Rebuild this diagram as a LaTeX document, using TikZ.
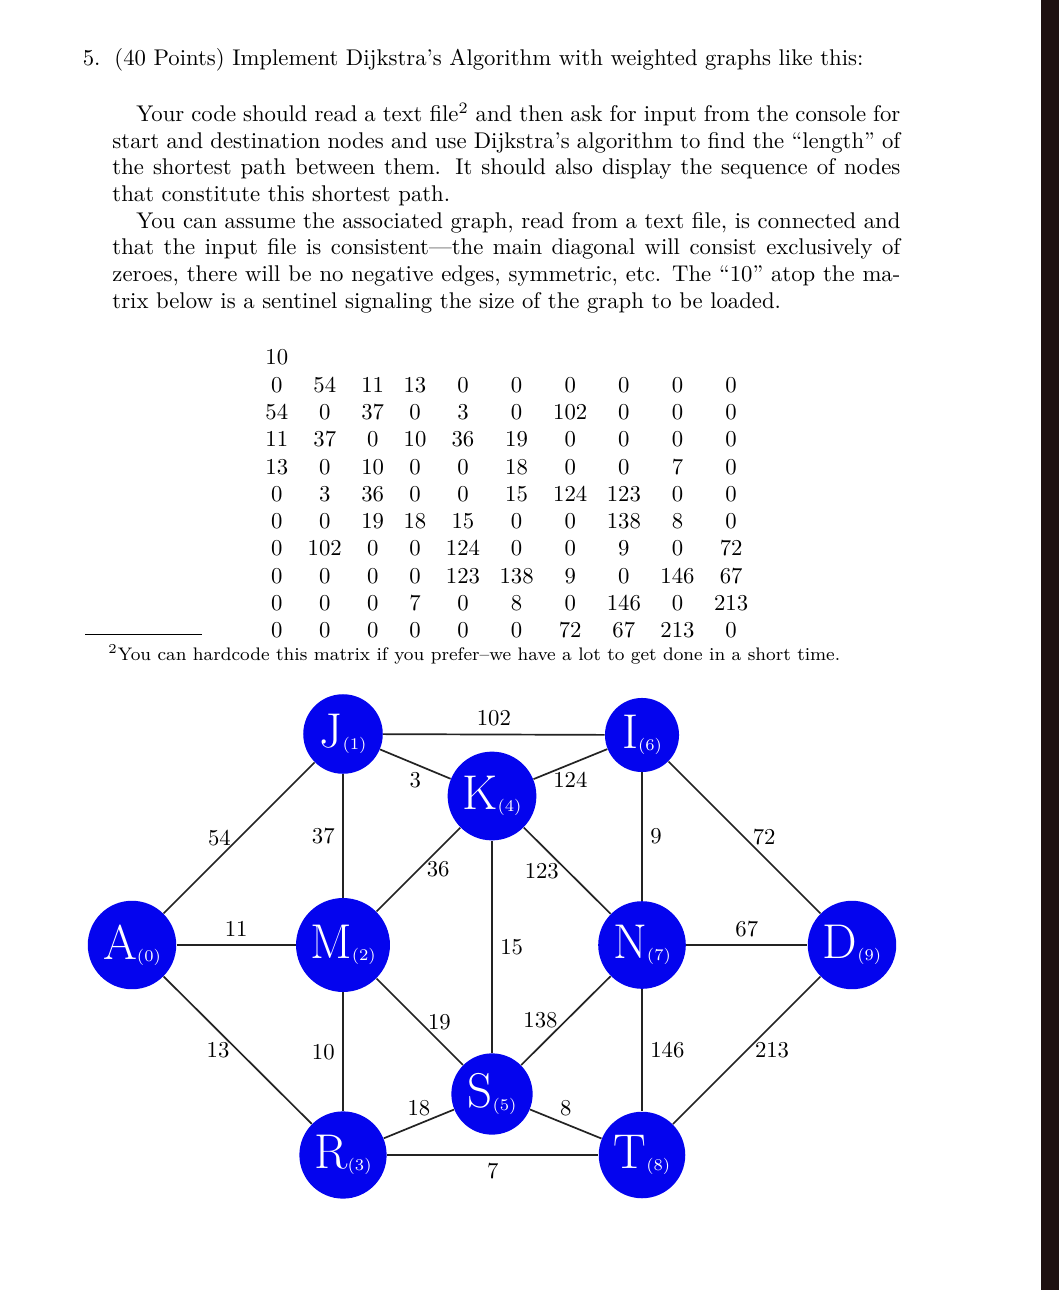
\documentclass[tikz,border=0pt]{standalone}
\definecolor{nodeblue}{RGB}{4,4,238}
\definecolor{edgecol}{RGB}{35,35,35}
\definecolor{barcol}{RGB}{30,16,16}
\newcommand\vlab[2]{#1\raisebox{-1pt}{\fontsize{7.2}{8}\selectfont(#2)}}
\newcommand\jline[1]{\makebox[346.7pt][s]{#1}}
\begin{document}
\begin{tikzpicture}[x=0.44pt,y=-0.44pt,
  vert/.style={circle, fill=nodeblue, text=white, inner sep=2.8pt, font=\fontsize{21.5}{24}\selectfont},
  edge/.style={draw=edgecol, line width=0.75pt},
  lab/.style={font=\fontsize{10}{12}\selectfont, text=black, inner sep=3.3pt},
  txt/.style={inner sep=0pt, anchor=base west, font=\fontsize{10}{12}\selectfont}]
\useasboundingbox (0,0) rectangle (1059,1290);
\fill[white] (0,0) rectangle (1059,1290);
\fill[barcol] (1041,0) rectangle (1059,1290);

% ---- text ----
\node[txt, anchor=base east] (num) at (101,66) {5.};
\node[txt] (head) at (114,66) {(40 Points) Implement Dijkstra’s Algorithm with weighted graphs like this:};
\node[txt] (p1) at (112,122) {\jline{\hspace*{10.5pt}Your code should read a text file\textsuperscript{2} and then ask for input from the console for}};
\node[txt] (p2) at (112,149) {\jline{start and destination nodes and use Dijkstra’s algorithm to find the “length” of}};
\node[txt] (p3) at (112,175) {\jline{the shortest path between them. It should also display the sequence of nodes}};
\node[txt] (p4) at (112,202) {that constitute this shortest path.};
\node[txt] (p5) at (112,229) {\jline{\hspace*{10.5pt}You can assume the associated graph, read from a text file, is connected and}};
\node[txt] (p6) at (112,255) {\jline{that the input file is consistent—the main diagonal will consist exclusively of}};
\node[txt] (p7) at (112,282) {\jline{zeroes, there will be no negative edges, symmetric, etc. The “10” atop the ma-}};
\node[txt] (p8) at (112,309) {trix below is a sentinel signaling the size of the graph to be loaded.};

% ---- matrix ----
\node[txt] (mat) at (265,365) {\setlength{\tabcolsep}{4.3pt}\renewcommand{\arraystretch}{1}%
\begin{tabular}[t]{@{}c*{9}{c}@{}}
10\\
0 & 54 & 11 & 13 & 0 & 0 & 0 & 0 & 0 & 0\\
54 & 0 & 37 & 0 & 3 & 0 & 102 & 0 & 0 & 0\\
11 & 37 & 0 & 10 & 36 & 19 & 0 & 0 & 0 & 0\\
13 & 0 & 10 & 0 & 0 & 18 & 0 & 0 & 7 & 0\\
0 & 3 & 36 & 0 & 0 & 15 & 124 & 123 & 0 & 0\\
0 & 0 & 19 & 18 & 15 & 0 & 0 & 138 & 8 & 0\\
0 & 102 & 0 & 0 & 124 & 0 & 0 & 9 & 0 & 72\\
0 & 0 & 0 & 0 & 123 & 138 & 9 & 0 & 146 & 67\\
0 & 0 & 0 & 7 & 0 & 8 & 0 & 146 & 0 & 213\\
0 & 0 & 0 & 0 & 0 & 0 & 72 & 67 & 213 & 0
\end{tabular}};

% ---- footnote ----
\coordinate (fr1) at (85,634);
\coordinate (fr2) at (202,634);
\draw[line width=0.4pt] (fr1) -- (fr2);
\node[txt, font=\fontsize{8}{9.5}\selectfont] (foot) at (108,660) {\textsuperscript{2}You can hardcode this matrix if you prefer–we have a lot to get done in a short time.};

% ---- graph ----
\node[vert] (A) at (132,945) {\vlab{A}{0}};
\node[vert] (J) at (343,734) {\vlab{J}{1}};
\node[vert] (M) at (343,945) {\vlab{M}{2}};
\node[vert] (R) at (343,1155) {\vlab{R}{3}};
\node[vert] (K) at (492,796) {\vlab{K}{4}};
\node[vert] (S) at (492,1094) {\vlab{S}{5}};
\node[vert] (I) at (642,735) {\vlab{I}{6}};
\node[vert] (N) at (642,945) {\vlab{N}{7}};
\node[vert] (T) at (642,1155) {\vlab{T}{8}};
\node[vert] (D) at (852,945) {\vlab{D}{9}};

\draw[edge] (A) -- node[lab,left]{54} (J);
\draw[edge] (A) -- node[lab,above]{11} (M);
\draw[edge] (A) -- node[lab,left]{13} (R);
\draw[edge] (J) -- node[lab,left]{37} (M);
\draw[edge] (J) -- node[lab,below]{3} (K);
\draw[edge] (J) -- node[lab,above]{102} (I);
\draw[edge] (K) -- node[lab,below]{124} (I);
\draw[edge] (K) -- node[lab,right]{36} (M);
\draw[edge] (K) -- node[lab,left]{123} (N);
\draw[edge] (K) -- node[lab,right]{15} (S);
\draw[edge] (I) -- node[lab,right]{9} (N);
\draw[edge] (I) -- node[lab,right]{72} (D);
\draw[edge] (M) -- node[lab,left]{10} (R);
\draw[edge] (M) -- node[lab,right]{19} (S);
\draw[edge] (N) -- node[lab,left]{138} (S);
\draw[edge] (N) -- node[lab,above]{67} (D);
\draw[edge] (N) -- node[lab,right]{146} (T);
\draw[edge] (D) -- node[lab,right]{213} (T);
\draw[edge] (R) -- node[lab,above]{18} (S);
\draw[edge] (S) -- node[lab,above]{8} (T);
\draw[edge] (R) -- node[lab,below]{7} (T);
\end{tikzpicture}
\end{document}
